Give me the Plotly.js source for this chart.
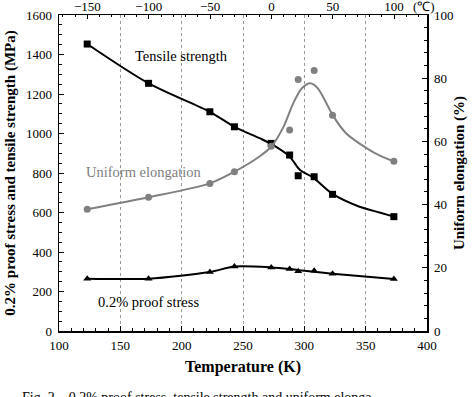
<!DOCTYPE html>
<html>
<head>
<meta charset="utf-8">
<script src="https://cdn.plot.ly/plotly-3.0.1.min.js"></script>
<style>html,body{margin:0;padding:0;background:#fff;}#chart{width:474px;height:397px;}</style>
</head>
<body>
<div id="chart"></div>
<script>
// Measured data (temperature in K)
const tempK = [123, 173, 223, 243, 273, 288, 295, 308, 323, 373];
const tensileStrength = [1453, 1254, 1110, 1034, 950, 891, 786, 781, 692, 579];
const proofStress = [265, 265, 299, 326, 322, 314, 302, 305, 290, 263];
const uniformElongation = [38.5, 42.3, 46.7, 50.4, 58.5, 63.6, 79.6, 82.4, 68.3, 53.7];

// Fitted curves
const tsCurveK = [123, 173, 223, 243, 264, 273, 288, 296.5, 307, 323, 345, 362, 373];
const tsCurveV = [1453, 1254, 1110, 1034, 975, 947, 883, 815, 778, 694, 629, 599, 579];
const ueCurveK = [123, 173, 223, 243, 264, 273, 283, 291, 298, 305, 311, 318, 323, 334, 351, 362, 373];
const ueCurveV = [38.5, 42.3, 46.7, 50.4, 55.4, 58.3, 64.6, 72.1, 76.8, 78.4, 76.8, 72.1, 68.4, 62.6, 57.8, 55.4, 53.7];
const psCurveK = [123, 173, 223, 243, 273, 288, 300, 323, 373];
const psCurveV = [265, 265, 299, 326, 322, 314, 305, 290, 263];

const kTicks = [100, 150, 200, 250, 300, 350, 400];
const cTicks = [-150, -100, -50, 0, 50, 100];

const serif = 'Liberation Serif, Times New Roman, serif';
const gray = '#808080';

const traces = [
  {x: tsCurveK, y: tsCurveV, mode: 'lines', line: {color: '#000', width: 2, shape: 'spline', smoothing: 0.8}, hoverinfo: 'skip'},
  {x: psCurveK, y: psCurveV, mode: 'lines', line: {color: '#000', width: 2, shape: 'spline', smoothing: 0.8}, hoverinfo: 'skip'},
  {x: ueCurveK, y: ueCurveV, yaxis: 'y2', mode: 'lines', line: {color: gray, width: 2, shape: 'spline', smoothing: 0.8}, hoverinfo: 'skip'},
  {x: tempK, y: tensileStrength, mode: 'markers', marker: {symbol: 'square', size: 7, color: '#000'}},
  {x: tempK, y: proofStress, mode: 'markers', marker: {symbol: 'triangle-up', size: 7, color: '#000'}},
  {x: tempK, y: uniformElongation, yaxis: 'y2', mode: 'markers', marker: {symbol: 'circle', size: 7, color: gray}},
  {x: cTicks, y: [0,0,0,0,0,0], xaxis: 'x2', mode: 'markers', marker: {opacity: 0}, hoverinfo: 'skip'}
];

const layout = {
  width: 474, height: 397,
  margin: {l: 59, r: 47, t: 15, b: 66},
  paper_bgcolor: '#fff', plot_bgcolor: '#fff',
  showlegend: false,
  font: {family: serif, size: 13, color: '#000'},
  xaxis: {
    range: [100, 400], tickvals: kTicks, ticks: 'inside', ticklen: 5, tickcolor: '#000',
    showline: true, linecolor: '#000', linewidth: 1.5, mirror: false,
    showgrid: true, gridcolor: '#9a9a9a', griddash: 'dot', gridwidth: 1, zeroline: false,
    minor: {dtick: 10, tick0: 100, ticks: 'inside', ticklen: 3, tickcolor: '#000', showgrid: false},
    title: {text: 'Temperature (K)', font: {family: serif, size: 16, weight: 'bold'}, standoff: 8},
    tickfont: {family: serif, size: 13}, ticklabelstandoff: 2
  },
  xaxis2: {
    overlaying: 'x', side: 'top', anchor: 'y',
    range: [100 - 273.15, 400 - 273.15], tickvals: cTicks, ticks: 'inside', ticklen: 4, tickcolor: '#000',
    showline: true, linecolor: '#000', linewidth: 1.5, showgrid: false, zeroline: false,
    minor: {dtick: 10, tick0: 0, ticks: 'inside', ticklen: 2, tickcolor: '#000'},
    tickfont: {family: serif, size: 13}, ticklabelstandoff: -3
  },
  yaxis: {
    range: [0, 1600], dtick: 200, tick0: 0, ticks: 'inside', ticklen: 5, tickcolor: '#000',
    showline: true, linecolor: '#000', linewidth: 1.5, showgrid: false, zeroline: false,
    minor: {dtick: 50, ticks: 'inside', ticklen: 3, tickcolor: '#000'},
    title: {text: '0.2% proof stress and tensile strength (MPa)', font: {family: serif, size: 15, weight: 'bold'}, standoff: 6},
    tickfont: {family: serif, size: 13}, ticklabelstandoff: 3
  },
  yaxis2: {
    overlaying: 'y', side: 'right', anchor: 'x',
    range: [0, 100], dtick: 20, tick0: 0, ticks: 'inside', ticklen: 5, tickcolor: '#000',
    showline: true, linecolor: '#000', linewidth: 1.5, showgrid: false, zeroline: false,
    minor: {dtick: 4, ticks: 'inside', ticklen: 3, tickcolor: '#000'},
    title: {text: 'Uniform elongation (%)', font: {family: serif, size: 15, weight: 'bold'}, standoff: 1},
    tickfont: {family: serif, size: 13}, ticklabelstandoff: 3
  },
  annotations: [
    {xref: 'x', yref: 'y', x: 200, y: 1392, text: 'Tensile strength', showarrow: false, font: {family: serif, size: 14.5, color: '#000'}},
    {xref: 'x', yref: 'y2', x: 169, y: 50.3, text: 'Uniform elongation', showarrow: false, font: {family: serif, size: 14.5, color: gray}},
    {xref: 'x', yref: 'y', x: 173, y: 148, text: '0.2% proof stress', showarrow: false, font: {family: serif, size: 14.5, color: '#000'}},
    {xref: 'paper', yref: 'paper', x: 0.992, y: 1.028, xanchor: 'center', yanchor: 'middle', text: '(℃)', showarrow: false, font: {family: serif, size: 13, color: '#000'}},
    {xref: 'paper', yref: 'paper', x: -0.106, y: -0.18, xanchor: 'left', yanchor: 'top', text: 'Fig. 2    0.2% proof stress, tensile strength and uniform elonga-', showarrow: false, font: {family: serif, size: 14, color: '#000'}}
  ]
};

Plotly.newPlot('chart', traces, layout, {staticPlot: true, displayModeBar: false});
</script>
</body>
</html>
